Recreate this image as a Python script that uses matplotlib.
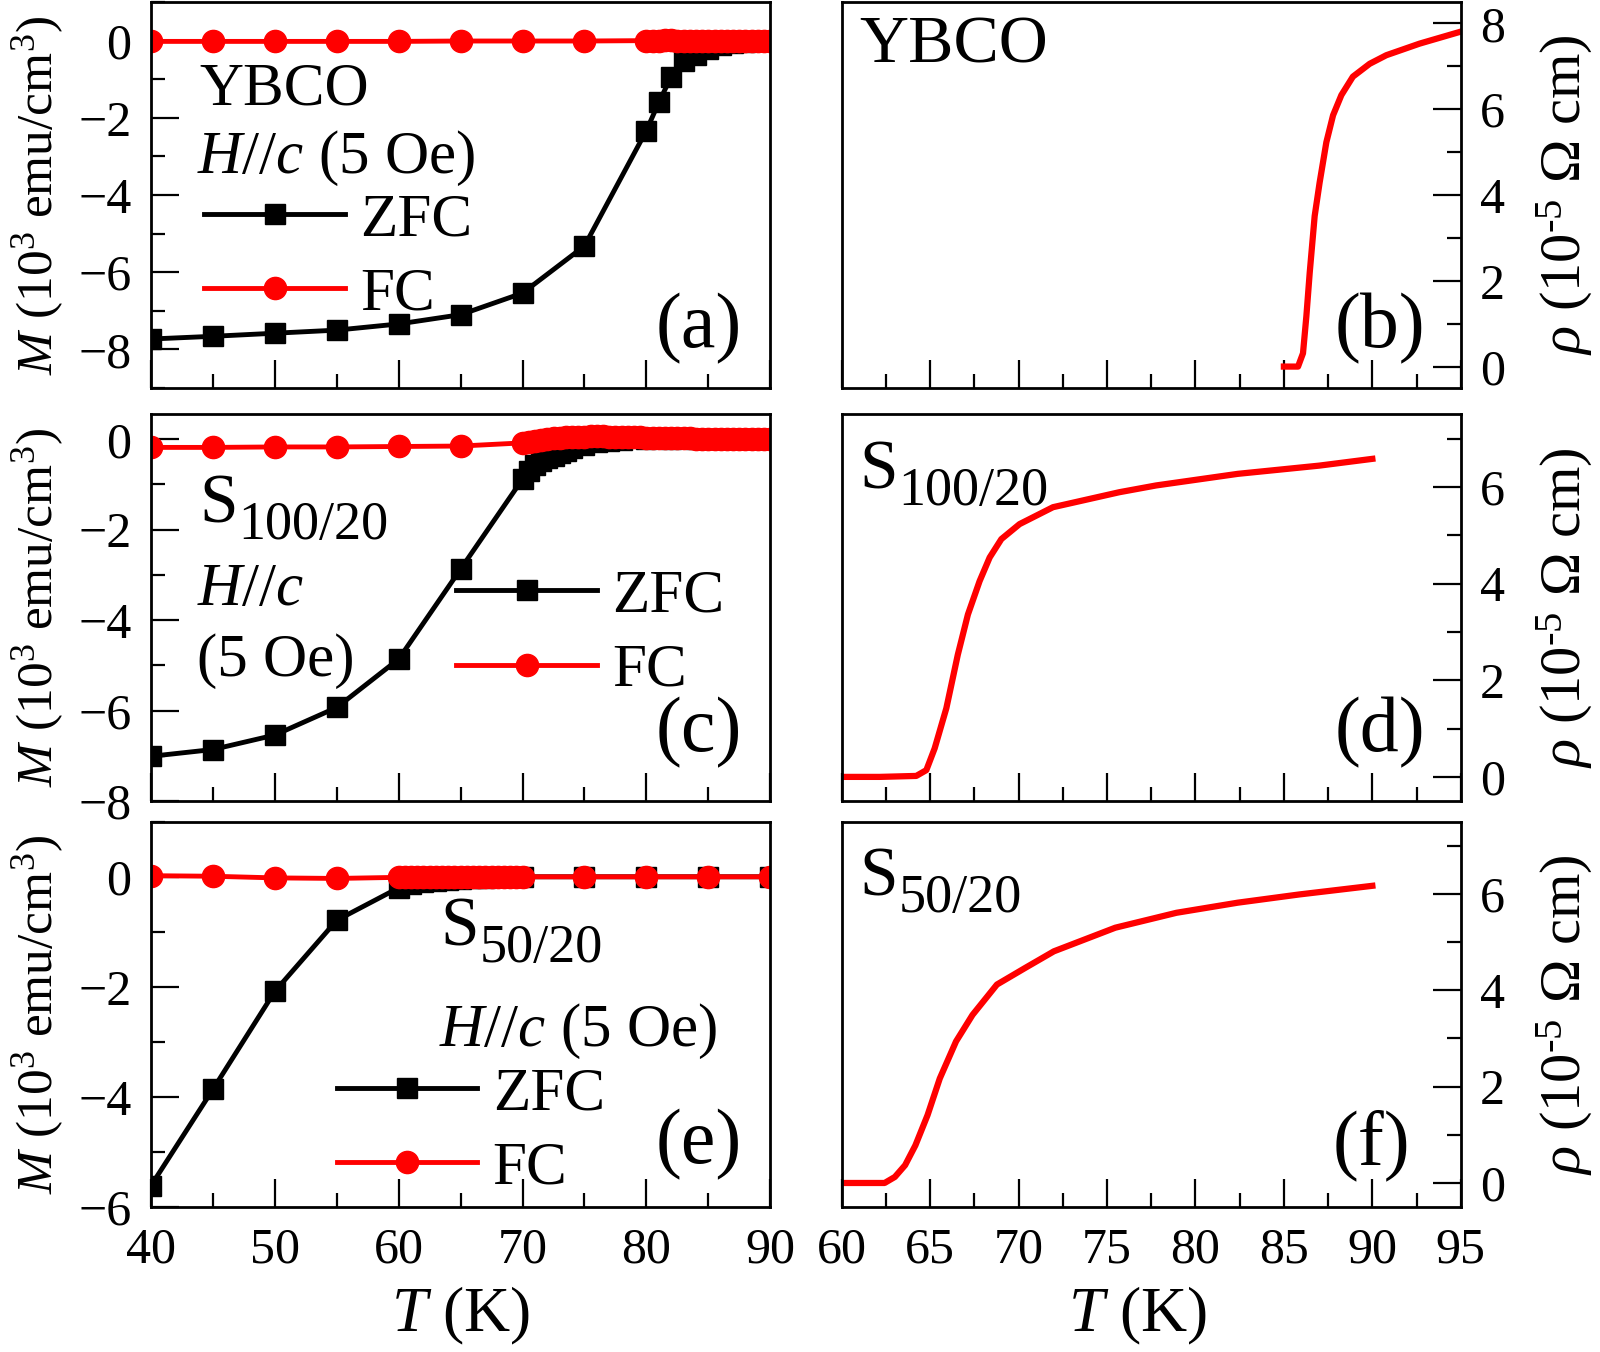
import matplotlib
matplotlib.use("Agg")
import matplotlib.pyplot as plt
from matplotlib.ticker import MultipleLocator

plt.rcParams['font.family'] = 'Liberation Serif'
plt.rcParams['mathtext.fontset'] = 'custom'
plt.rcParams['mathtext.rm'] = 'Liberation Serif'
plt.rcParams['mathtext.it'] = 'Liberation Serif:italic'
plt.rcParams['mathtext.bf'] = 'Liberation Serif:bold'

# ---- M(T) data, 5 Oe, H//c ----
a_zfc_T = [40, 45, 50, 55, 60, 65, 70, 75, 80, 81, 82, 83, 84, 85, 86, 87, 88, 89, 90]
a_zfc_M = [-7.73, -7.66, -7.58, -7.50, -7.34, -7.10, -6.54, -5.32, -2.33, -1.60, -0.94,
           -0.54, -0.36, -0.22, -0.12, -0.06, -0.03, -0.01, 0.0]
a_fc_T = [40, 45, 50, 55, 60, 65, 70, 75, 80, 80.5, 81, 81.5, 82, 82.5, 83, 83.5, 84,
          84.5, 85, 85.5, 86, 86.5, 87, 87.5, 88, 88.5, 89, 89.5, 90]
a_fc_M = [-0.02, -0.02, -0.02, -0.02, -0.02, -0.01, -0.01, -0.01, 0.0, 0.0, 0.0, 0.01,
          0.01, 0.0, 0.0, 0.0, 0.0, 0.0, 0.0, 0.0, 0.0, 0.0, 0.0, 0.0, 0.0, 0.0, 0.0,
          0.0, 0.0]

c_zfc_T = [40, 45, 50, 55, 60, 65, 70, 70.5, 71, 71.5, 72, 72.5, 73, 73.5, 74, 75, 76,
           77, 78, 80, 82, 84, 86, 88, 90]
c_zfc_M = [-7.01, -6.86, -6.54, -5.93, -4.86, -2.87, -0.88, -0.70, -0.58, -0.49, -0.42,
           -0.36, -0.30, -0.25, -0.20, -0.12, -0.06, -0.03, -0.01, 0.0, 0.0, 0.0, 0.0,
           0.0, 0.0]
c_fc_T = [40, 45, 50, 55, 60, 65, 70, 70.5, 71, 71.5, 72, 72.5, 73, 73.5, 74, 74.5, 75,
          75.5, 76, 76.5, 77, 77.5, 78, 78.5, 79, 79.5, 80, 80.5, 81, 81.5, 82, 82.5, 83,
          83.5, 84, 84.5, 85, 85.5, 86, 86.5, 87, 87.5, 88, 88.5, 89, 89.5, 90]
c_fc_M = [-0.18, -0.18, -0.17, -0.17, -0.16, -0.15, -0.08, -0.05, -0.03, -0.01, 0.01,
          0.02, 0.03, 0.04, 0.05, 0.06, 0.06, 0.07, 0.07, 0.07, 0.06, 0.06, 0.05, 0.05,
          0.04, 0.04, 0.03, 0.03, 0.03, 0.02, 0.02, 0.02, 0.02, 0.02, 0.01, 0.01, 0.01,
          0.01, 0.01, 0.01, 0.01, 0.01, 0.0, 0.0, 0.0, 0.0, 0.0]

e_zfc_T = [40, 45, 50, 55, 60, 61, 62, 63, 64, 65, 66, 67, 68, 69, 70, 75, 80, 85, 90]
e_zfc_M = [-5.61, -3.86, -2.08, -0.79, -0.20, -0.14, -0.10, -0.07, -0.05, -0.04, -0.03,
           -0.02, -0.01, -0.01, 0.0, 0.0, 0.0, 0.0, 0.0]
e_fc_T = [40, 45, 50, 55, 60, 60.5, 61, 61.5, 62, 62.5, 63, 63.5, 64, 64.5, 65, 65.5, 66,
          66.5, 67, 67.5, 68, 68.5, 69, 69.5, 70, 75, 80, 85, 90]
e_fc_M = [0.02, 0.01, -0.02, -0.03, -0.01, 0.0, 0.0, 0.0, 0.0, 0.0, 0.0, 0.0, 0.0, 0.0,
          0.0, 0.0, 0.0, 0.0, 0.0, 0.0, 0.0, 0.0, 0.0, 0.0, 0.0, 0.0, 0.0, 0.0, 0.0]

# ---- rho(T) data ----
b_T = [85.0, 85.8, 86.08, 86.27, 86.46, 86.74, 87.02, 87.4, 87.78, 88.25, 88.9, 89.85,
       90.79, 92.67, 95.0]
b_rho = [0.0, 0.0, 0.31, 1.17, 2.19, 3.51, 4.29, 5.23, 5.86, 6.33, 6.76, 7.06, 7.26,
         7.53, 7.81]
d_T = [60.0, 62.15, 64.22, 64.79, 65.26, 65.92, 66.57, 67.14, 67.8, 68.37, 69.03, 70.06,
       71.95, 75.7, 77.78, 82.4, 87.0, 90.0]
d_rho = [0.0, 0.0, 0.02, 0.14, 0.59, 1.42, 2.53, 3.36, 4.05, 4.54, 4.92, 5.23, 5.58,
         5.89, 6.03, 6.27, 6.44, 6.58]
f_T = [60.0, 62.43, 63.01, 63.59, 64.17, 64.86, 65.55, 66.47, 67.4, 68.78, 70.4, 72.0,
       75.47, 78.93, 82.4, 85.86, 90.0]
f_rho = [0.0, 0.0, 0.125, 0.37, 0.78, 1.41, 2.17, 2.94, 3.49, 4.12, 4.47, 4.81, 5.30,
         5.61, 5.82, 5.99, 6.17]

RED = '#ff0000'
TICK_FS = 36
TEXT_FS = 44
PANEL_FS = 56
M_LABEL = r'$M$ (10$^{3}$ emu/cm$^{3}$)'
RHO_LABEL = r'$\rho$ (10$^{\text{-5}}$ $\Omega$ cm)'

fig = plt.figure(figsize=(16, 13.52), dpi=100)

W = 0.387
lx, rx = 0.0944, 0.526
rows = [(0.713, 0.2855), (0.4075, 0.286), (0.1072, 0.285)]


def style(ax, right=False):
    for s in ax.spines.values():
        s.set_linewidth(2)
    ax.tick_params(which='both', direction='in', width=1.6, labelsize=TICK_FS, pad=14,
                   top=False, right=right, left=not right)
    ax.tick_params(which='major', length=20)
    ax.tick_params(which='minor', length=10)


def mt_panel(ax, zT, zM, fT, fM, ylim):
    lz, = ax.plot(zT, zM, color='black', lw=3.5, marker='s', ms=14)
    lf, = ax.plot(fT, fM, color=RED, lw=3.5, marker='o', ms=16)
    ax.set_xlim(40, 90)
    ax.set_ylim(*ylim)
    ax.xaxis.set_major_locator(MultipleLocator(10))
    ax.xaxis.set_minor_locator(MultipleLocator(5))
    ax.yaxis.set_major_locator(MultipleLocator(2))
    ax.yaxis.set_minor_locator(MultipleLocator(1))
    style(ax)
    ax.set_ylabel(M_LABEL, fontsize=37, va='center')
    ax.yaxis.set_label_coords(-0.183, 0.5)
    return lz, lf


def rho_panel(ax, T, rho):
    ax.plot(T, rho, color=RED, lw=4.5)
    ax.set_xlim(60, 95)
    ax.xaxis.set_major_locator(MultipleLocator(5))
    ax.xaxis.set_minor_locator(MultipleLocator(2.5))
    ax.yaxis.set_major_locator(MultipleLocator(2))
    ax.yaxis.set_minor_locator(MultipleLocator(1))
    ax.yaxis.tick_right()
    ax.yaxis.set_label_position('right')
    style(ax, right=True)
    ax.set_ylabel(RHO_LABEL, fontsize=42, va='center', rotation=90)
    ax.yaxis.set_label_coords(1.168, 0.5)


def legend(ax, handles, x, y):
    ax.legend(handles, ['ZFC', 'FC'], loc='center left', bbox_to_anchor=(x, y),
              frameon=False, fontsize=44, handlelength=2.3, handletextpad=0.25,
              borderpad=0, borderaxespad=0, labelspacing=0.3, numpoints=1)


def sample(ax, x, y, sub):
    # S with a large subscript, both on baselines
    ax.annotate('S', xy=(x, y), xycoords='axes fraction', fontsize=50, va='baseline')
    ax.annotate(sub, xy=(x, y), xycoords='axes fraction', xytext=(28, -12),
                textcoords='offset points', fontsize=39, va='baseline')


# (a)
ax = fig.add_axes([lx, rows[0][0], W, rows[0][1]])
h = mt_panel(ax, a_zfc_T, a_zfc_M, a_fc_T, a_fc_M, (-9, 1))
ax.tick_params(labelbottom=False)
ax.text(0.078, 0.772, 'YBCO', transform=ax.transAxes, fontsize=TEXT_FS, va='center')
ax.text(0.074, 0.596, r'$H//c$ (5 Oe)', transform=ax.transAxes, fontsize=TEXT_FS,
        va='center')
legend(ax, h, 0.086, 0.338)
ax.text(0.884, 0.153, '(a)', transform=ax.transAxes, fontsize=PANEL_FS, ha='center',
        va='center')

# (c)
ax = fig.add_axes([lx, rows[1][0], W, rows[1][1]])
h = mt_panel(ax, c_zfc_T, c_zfc_M, c_fc_T, c_fc_M, (-8, 0.55))
ax.tick_params(labelbottom=False)
sample(ax, 0.078, 0.72, '100/20')
ax.text(0.074, 0.545, r'$H//c$', transform=ax.transAxes, fontsize=TEXT_FS, va='center')
ax.text(0.074, 0.362, '(5 Oe)', transform=ax.transAxes, fontsize=TEXT_FS, va='center')
legend(ax, h, 0.493, 0.432)
ax.text(0.884, 0.176, '(c)', transform=ax.transAxes, fontsize=PANEL_FS, ha='center',
        va='center')

# (e)
ax = fig.add_axes([lx, rows[2][0], W, rows[2][1]])
h = mt_panel(ax, e_zfc_T, e_zfc_M, e_fc_T, e_fc_M, (-6, 1))
sample(ax, 0.468, 0.678, '50/20')
ax.text(0.465, 0.457, r'$H//c$ (5 Oe)', transform=ax.transAxes, fontsize=TEXT_FS,
        va='center')
legend(ax, h, 0.30, 0.196)
ax.text(0.884, 0.161, '(e)', transform=ax.transAxes, fontsize=PANEL_FS, ha='center',
        va='center')
ax.set_xlabel(r'$T$ (K)', fontsize=46, va='center')
ax.xaxis.set_label_coords(0.5, -0.283)

# (b)
ax = fig.add_axes([rx, rows[0][0], W, rows[0][1]])
rho_panel(ax, b_T, b_rho)
ax.set_ylim(-0.5, 8.5)
ax.tick_params(labelbottom=False)
ax.text(0.029, 0.886, 'YBCO', transform=ax.transAxes, fontsize=49, va='center')
ax.text(0.869, 0.153, '(b)', transform=ax.transAxes, fontsize=PANEL_FS, ha='center',
        va='center')

# (d)
ax = fig.add_axes([rx, rows[1][0], W, rows[1][1]])
rho_panel(ax, d_T, d_rho)
ax.set_ylim(-0.5, 7.5)
ax.tick_params(labelbottom=False)
sample(ax, 0.029, 0.809, '100/20')
ax.text(0.869, 0.176, '(d)', transform=ax.transAxes, fontsize=PANEL_FS, ha='center',
        va='center')

# (f)
ax = fig.add_axes([rx, rows[2][0], W, rows[2][1]])
rho_panel(ax, f_T, f_rho)
ax.set_ylim(-0.5, 7.5)
sample(ax, 0.029, 0.808, '50/20')
ax.text(0.856, 0.161, '(f)', transform=ax.transAxes, fontsize=PANEL_FS, ha='center',
        va='center')
ax.set_xlabel(r'$T$ (K)', fontsize=46, va='center')
ax.xaxis.set_label_coords(0.478, -0.283)

fig.savefig('out.png', dpi=100)
